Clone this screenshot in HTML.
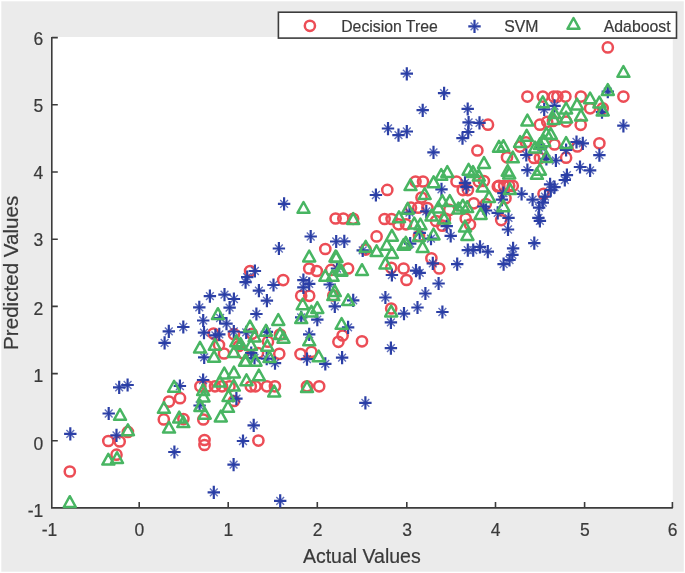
<!DOCTYPE html>
<html><head><meta charset="utf-8"><title>Predicted vs Actual</title>
<style>html,body{margin:0;padding:0;background:#fff;}svg{display:block;}text{font-family:"Liberation Sans",Arial,Helvetica,sans-serif;fill:#3a3a3a;stroke:#3a3a3a;stroke-width:0.2px;}svg{filter:blur(0.55px);}</style></head><body>
<svg width="685" height="573" viewBox="0 0 685 573">
<rect x="0" y="0" width="685" height="573" fill="#ffffff"/>
<rect x="1.3" y="1.3" width="682.5" height="570.4" fill="#ebebeb"/>
<rect x="51.8" y="37.0" width="621.0" height="470.9" fill="#ffffff"/>
<path d="M51.8 37.0V507.9H672.8M51.8 507.9v-6.0M51.8 508.0h6.0M139.2 507.9v-6.0M51.8 440.8h6.0M228.2 507.9v-6.0M51.8 373.6h6.0M317.3 507.9v-6.0M51.8 306.4h6.0M406.8 507.9v-6.0M51.8 239.2h6.0M495.5 507.9v-6.0M51.8 172.0h6.0M584.6 507.9v-6.0M51.8 104.8h6.0M672.4 507.9v-6.0M51.8 37.6h6.0" fill="none" stroke="#3c3c3c" stroke-width="1.6"/>
<g font-size="17.5px">
<text x="49.5" y="535.5" text-anchor="middle">-1</text>
<text x="139.4" y="535.5" text-anchor="middle">0</text>
<text x="228.4" y="535.5" text-anchor="middle">1</text>
<text x="317.5" y="535.5" text-anchor="middle">2</text>
<text x="407.0" y="535.5" text-anchor="middle">3</text>
<text x="495.7" y="535.5" text-anchor="middle">4</text>
<text x="584.8" y="535.5" text-anchor="middle">5</text>
<text x="672.6" y="535.5" text-anchor="middle">6</text>
<text x="43.2" y="516.8" text-anchor="end">-1</text>
<text x="43.2" y="449.6" text-anchor="end">0</text>
<text x="43.2" y="382.4" text-anchor="end">1</text>
<text x="43.2" y="315.2" text-anchor="end">2</text>
<text x="43.2" y="246.4" text-anchor="end">3</text>
<text x="43.2" y="179.2" text-anchor="end">4</text>
<text x="43.2" y="112.0" text-anchor="end">5</text>
<text x="43.2" y="44.8" text-anchor="end">6</text>
</g>
<text x="361.8" y="563" font-size="19.5px" text-anchor="middle">Actual Values</text>
<text transform="translate(18.0 272.8) rotate(-90)" font-size="20.6px" text-anchor="middle">Predicted Values</text>
<g fill="none" stroke="#ec4d56" stroke-width="2.50">
<circle cx="69.8" cy="471.5" r="5.1"/><circle cx="108.3" cy="441.0" r="5.1"/><circle cx="119.7" cy="441.5" r="5.1"/><circle cx="116.5" cy="454.7" r="5.1"/><circle cx="127.9" cy="431.9" r="5.1"/><circle cx="163.8" cy="419.4" r="5.1"/><circle cx="204.5" cy="440.0" r="5.1"/><circle cx="204.5" cy="445.0" r="5.1"/><circle cx="258.4" cy="440.6" r="5.1"/><circle cx="183.4" cy="419.1" r="5.1"/><circle cx="203.3" cy="419.5" r="5.1"/><circle cx="169.0" cy="401.6" r="5.1"/><circle cx="180.0" cy="398.2" r="5.1"/><circle cx="200.4" cy="386.3" r="5.1"/><circle cx="207.5" cy="386.3" r="5.1"/><circle cx="215.0" cy="386.3" r="5.1"/><circle cx="222.0" cy="386.3" r="5.1"/><circle cx="229.5" cy="386.3" r="5.1"/><circle cx="250.8" cy="386.3" r="5.1"/><circle cx="255.5" cy="386.3" r="5.1"/><circle cx="266.9" cy="386.3" r="5.1"/><circle cx="274.9" cy="386.3" r="5.1"/><circle cx="307.0" cy="386.3" r="5.1"/><circle cx="319.2" cy="386.3" r="5.1"/><circle cx="234.0" cy="401.0" r="5.1"/><circle cx="213.5" cy="333.6" r="5.1"/><circle cx="234.0" cy="334.2" r="5.1"/><circle cx="219.0" cy="345.0" r="5.1"/><circle cx="224.0" cy="353.5" r="5.1"/><circle cx="242.8" cy="353.2" r="5.1"/><circle cx="239.0" cy="346.0" r="5.1"/><circle cx="300.5" cy="354.1" r="5.1"/><circle cx="311.4" cy="351.9" r="5.1"/><circle cx="279.3" cy="353.8" r="5.1"/><circle cx="268.0" cy="341.7" r="5.1"/><circle cx="280.0" cy="334.5" r="5.1"/><circle cx="338.4" cy="341.8" r="5.1"/><circle cx="342.6" cy="335.5" r="5.1"/><circle cx="252.0" cy="333.8" r="5.1"/><circle cx="258.0" cy="353.0" r="5.1"/><circle cx="325.3" cy="249.0" r="5.1"/><circle cx="250.1" cy="271.0" r="5.1"/><circle cx="283.2" cy="280.1" r="5.1"/><circle cx="309.2" cy="268.5" r="5.1"/><circle cx="316.8" cy="271.0" r="5.1"/><circle cx="301.2" cy="295.8" r="5.1"/><circle cx="309.2" cy="295.8" r="5.1"/><circle cx="331.1" cy="269.9" r="5.1"/><circle cx="333.3" cy="295.5" r="5.1"/><circle cx="335.6" cy="218.5" r="5.1"/><circle cx="343.3" cy="218.5" r="5.1"/><circle cx="406.5" cy="280.0" r="5.1"/><circle cx="391.2" cy="308.5" r="5.1"/><circle cx="362.0" cy="341.3" r="5.1"/><circle cx="353.2" cy="218.8" r="5.1"/><circle cx="384.6" cy="219.0" r="5.1"/><circle cx="391.6" cy="219.0" r="5.1"/><circle cx="398.5" cy="224.3" r="5.1"/><circle cx="406.0" cy="224.3" r="5.1"/><circle cx="376.6" cy="236.4" r="5.1"/><circle cx="365.7" cy="249.6" r="5.1"/><circle cx="348.1" cy="268.5" r="5.1"/><circle cx="391.2" cy="267.8" r="5.1"/><circle cx="403.6" cy="268.5" r="5.1"/><circle cx="431.4" cy="258.3" r="5.1"/><circle cx="419.0" cy="236.0" r="5.1"/><circle cx="387.3" cy="189.9" r="5.1"/><circle cx="418.2" cy="207.7" r="5.1"/><circle cx="421.5" cy="197.5" r="5.1"/><circle cx="427.4" cy="208.1" r="5.1"/><circle cx="445.0" cy="218.6" r="5.1"/><circle cx="436.0" cy="221.0" r="5.1"/><circle cx="449.3" cy="209.9" r="5.1"/><circle cx="411.0" cy="207.7" r="5.1"/><circle cx="477.4" cy="150.5" r="5.1"/><circle cx="415.5" cy="181.5" r="5.1"/><circle cx="423.0" cy="181.5" r="5.1"/><circle cx="456.5" cy="181.5" r="5.1"/><circle cx="462.8" cy="190.1" r="5.1"/><circle cx="467.9" cy="190.1" r="5.1"/><circle cx="478.8" cy="181.4" r="5.1"/><circle cx="483.9" cy="181.0" r="5.1"/><circle cx="497.8" cy="186.5" r="5.1"/><circle cx="473.7" cy="203.3" r="5.1"/><circle cx="465.7" cy="218.6" r="5.1"/><circle cx="470.0" cy="224.5" r="5.1"/><circle cx="439.2" cy="268.5" r="5.1"/><circle cx="442.3" cy="225.7" r="5.1"/><circle cx="507.0" cy="157.3" r="5.1"/><circle cx="534.0" cy="158.0" r="5.1"/><circle cx="539.9" cy="158.0" r="5.1"/><circle cx="566.1" cy="157.7" r="5.1"/><circle cx="543.5" cy="193.8" r="5.1"/><circle cx="499.0" cy="185.8" r="5.1"/><circle cx="504.1" cy="185.8" r="5.1"/><circle cx="509.2" cy="185.8" r="5.1"/><circle cx="512.8" cy="185.8" r="5.1"/><circle cx="505.5" cy="198.2" r="5.1"/><circle cx="501.2" cy="220.1" r="5.1"/><circle cx="485.8" cy="204.0" r="5.1"/><circle cx="527.4" cy="96.6" r="5.1"/><circle cx="542.8" cy="96.6" r="5.1"/><circle cx="553.7" cy="96.6" r="5.1"/><circle cx="557.4" cy="96.6" r="5.1"/><circle cx="565.4" cy="96.6" r="5.1"/><circle cx="580.9" cy="96.6" r="5.1"/><circle cx="488.0" cy="124.7" r="5.1"/><circle cx="539.9" cy="124.7" r="5.1"/><circle cx="547.2" cy="121.8" r="5.1"/><circle cx="553.0" cy="121.0" r="5.1"/><circle cx="566.1" cy="121.5" r="5.1"/><circle cx="580.7" cy="124.8" r="5.1"/><circle cx="526.0" cy="142.3" r="5.1"/><circle cx="520.0" cy="146.6" r="5.1"/><circle cx="554.5" cy="144.5" r="5.1"/><circle cx="577.3" cy="146.5" r="5.1"/><circle cx="607.8" cy="47.4" r="5.1"/><circle cx="623.4" cy="96.6" r="5.1"/><circle cx="590.1" cy="108.3" r="5.1"/><circle cx="602.7" cy="108.3" r="5.1"/><circle cx="599.4" cy="143.3" r="5.1"/>
</g>
<path fill="none" stroke="#2b3fa6" stroke-width="2.20" d="M64.1 433.8h12.4M70.3 427.2v13.2M102.5 413.5h12.4M108.7 406.9v13.2M110.3 435.4h12.4M116.5 428.8v13.2M168.2 452.0h12.4M174.4 445.4v13.2M207.6 492.3h12.4M213.8 485.8v13.2M227.4 464.6h12.4M233.6 458.1v13.2M236.8 441.0h12.4M243.0 434.4v13.2M247.5 425.4h12.4M253.7 418.8v13.2M274.0 500.8h12.4M280.2 494.2v13.2M113.0 387.4h12.4M119.2 380.8v13.2M121.4 385.0h12.4M127.6 378.4v13.2M173.7 386.0h12.4M179.9 379.4v13.2M196.9 380.0h12.4M203.1 373.4v13.2M193.4 405.5h12.4M199.6 398.9v13.2M230.2 398.7h12.4M236.4 392.1v13.2M198.0 357.3h12.4M204.2 350.8v13.2M158.4 342.8h12.4M164.6 336.2v13.2M162.6 331.4h12.4M168.8 324.8v13.2M177.1 327.0h12.4M183.3 320.4v13.2M193.1 307.4h12.4M199.3 300.8v13.2M203.7 296.1h12.4M209.9 289.6v13.2M218.3 294.6h12.4M224.5 288.1v13.2M227.7 299.0h12.4M233.9 292.4v13.2M223.4 307.7h12.4M229.6 301.1v13.2M197.0 320.5h12.4M203.2 313.9v13.2M197.8 332.7h12.4M204.0 326.1v13.2M213.9 318.0h12.4M220.1 311.4v13.2M220.3 323.6h12.4M226.5 317.1v13.2M227.6 331.5h12.4M233.8 324.9v13.2M209.2 335.3h12.4M215.4 328.8v13.2M213.1 334.4h12.4M219.3 327.8v13.2M239.4 282.2h12.4M245.6 275.6v13.2M240.0 332.3h12.4M246.2 325.8v13.2M303.0 334.4h12.4M309.2 327.8v13.2M300.8 359.2h12.4M307.0 352.6v13.2M319.1 363.9h12.4M325.3 357.3v13.2M335.9 357.7h12.4M342.1 351.1v13.2M268.8 363.2h12.4M275.0 356.6v13.2M260.5 358.6h12.4M266.7 352.1v13.2M260.7 331.8h12.4M266.9 325.2v13.2M245.0 353.2h12.4M251.2 346.6v13.2M248.3 358.0h12.4M254.5 351.4v13.2M250.2 314.0h12.4M256.4 307.4v13.2M272.7 248.5h12.4M278.9 241.9v13.2M248.7 271.0h12.4M254.9 264.4v13.2M241.0 277.2h12.4M247.2 270.6v13.2M267.3 285.0h12.4M273.5 278.4v13.2M252.7 290.7h12.4M258.9 284.1v13.2M260.7 300.6h12.4M266.9 294.1v13.2M297.2 280.1h12.4M303.4 273.6v13.2M303.0 283.8h12.4M309.2 277.2v13.2M297.2 287.4h12.4M303.4 280.8v13.2M323.5 284.5h12.4M329.7 277.9v13.2M328.6 306.4h12.4M334.8 299.8v13.2M295.0 317.4h12.4M301.2 310.8v13.2M311.1 319.6h12.4M317.3 313.1v13.2M330.0 241.5h12.4M336.2 234.9v13.2M304.5 236.5h12.4M310.7 229.9v13.2M330.8 268.5h12.4M337.0 261.9v13.2M338.1 241.3h12.4M344.3 234.8v13.2M277.9 203.8h12.4M284.1 197.2v13.2M347.0 300.4h12.4M353.2 293.8v13.2M379.2 297.5h12.4M385.4 290.9v13.2M419.2 293.5h12.4M425.4 286.9v13.2M411.3 307.5h12.4M417.5 300.9v13.2M397.8 313.6h12.4M404.0 307.1v13.2M384.7 322.3h12.4M390.9 315.8v13.2M384.7 348.2h12.4M390.9 341.6v13.2M341.9 327.4h12.4M348.1 320.8v13.2M359.2 402.9h12.4M365.4 396.3v13.2M356.5 250.3h12.4M362.7 243.8v13.2M369.7 195.0h12.4M375.9 188.4v13.2M385.7 275.0h12.4M391.9 268.4v13.2M409.8 270.7h12.4M416.0 264.1v13.2M413.5 272.9h12.4M419.7 266.3v13.2M404.0 243.7h12.4M410.2 237.1v13.2M403.3 212.5h12.4M409.5 205.9v13.2M420.1 211.4h12.4M426.3 204.8v13.2M413.5 232.8h12.4M419.7 226.2v13.2M424.8 238.7h12.4M431.0 232.1v13.2M426.6 263.4h12.4M432.8 256.8v13.2M427.3 152.3h12.4M433.5 145.8v13.2M435.3 189.4h12.4M441.5 182.8v13.2M458.8 182.8h12.4M465.0 176.2v13.2M460.2 187.2h12.4M466.4 180.6v13.2M477.2 206.5h12.4M483.4 199.9v13.2M479.8 210.5h12.4M486.0 203.9v13.2M491.5 212.8h12.4M497.7 206.2v13.2M440.5 226.2h12.4M446.7 219.6v13.2M444.5 235.8h12.4M450.7 229.2v13.2M461.6 250.1h12.4M467.8 243.5v13.2M467.0 250.1h12.4M473.2 243.5v13.2M473.8 246.9h12.4M480.0 240.3v13.2M481.6 251.6h12.4M487.8 245.0v13.2M451.0 264.1h12.4M457.2 257.6v13.2M501.8 229.5h12.4M508.0 222.9v13.2M506.9 248.4h12.4M513.1 241.8v13.2M506.2 254.9h12.4M512.4 248.3v13.2M503.3 260.0h12.4M509.5 253.4v13.2M497.4 264.1h12.4M503.6 257.6v13.2M528.1 243.2h12.4M534.3 236.6v13.2M432.4 283.5h12.4M438.6 276.9v13.2M436.2 312.0h12.4M442.4 305.4v13.2M520.1 155.0h12.4M526.3 148.4v13.2M521.2 170.1h12.4M527.4 163.5v13.2M540.2 158.8h12.4M546.4 152.2v13.2M549.7 160.5h12.4M555.9 153.9v13.2M559.9 150.0h12.4M566.1 143.4v13.2M573.8 167.0h12.4M580.0 160.4v13.2M560.7 175.2h12.4M566.9 168.6v13.2M558.6 180.0h12.4M564.8 173.4v13.2M543.9 184.3h12.4M550.1 177.8v13.2M548.3 187.2h12.4M554.5 180.6v13.2M544.6 190.1h12.4M550.8 183.5v13.2M515.4 193.8h12.4M521.6 187.2v13.2M526.4 199.6h12.4M532.6 193.0v13.2M538.8 196.7h12.4M545.0 190.1v13.2M536.6 202.6h12.4M542.8 196.0v13.2M532.9 207.7h12.4M539.1 201.1v13.2M532.2 217.9h12.4M538.4 211.3v13.2M533.7 220.8h12.4M539.9 214.2v13.2M497.2 193.1h12.4M503.4 186.5v13.2M495.7 199.6h12.4M501.9 193.0v13.2M502.3 217.9h12.4M508.5 211.3v13.2M538.0 109.4h12.4M544.2 102.9v13.2M548.3 105.8h12.4M554.5 99.2v13.2M473.3 122.8h12.4M479.5 116.2v13.2M570.3 142.0h12.4M576.5 135.4v13.2M535.1 147.4h12.4M541.3 140.8v13.2M601.6 91.6h12.4M607.8 85.0v13.2M595.8 112.0h12.4M602.0 105.5v13.2M617.2 125.7h12.4M623.4 119.2v13.2M576.6 143.3h12.4M582.8 136.8v13.2M593.2 155.2h12.4M599.4 148.6v13.2M583.9 170.4h12.4M590.1 163.8v13.2M400.6 73.7h12.4M406.8 67.2v13.2M437.9 93.2h12.4M444.1 86.7v13.2M416.5 110.2h12.4M422.7 103.7v13.2M461.5 108.9h12.4M467.7 102.4v13.2M381.8 128.5h12.4M388.0 122.0v13.2M392.3 135.2h12.4M398.5 128.6v13.2M400.6 131.5h12.4M406.8 125.0v13.2M462.4 122.4h12.4M468.6 115.9v13.2M462.0 132.0h12.4M468.2 125.5v13.2M456.3 138.2h12.4M462.5 131.6v13.2"/>
<path fill="none" stroke="#2b3fa6" stroke-width="1.4" stroke-opacity="0.75" d="M66.4 429.9l7.8 7.8M66.4 437.7l7.8 -7.8M104.8 409.6l7.8 7.8M104.8 417.4l7.8 -7.8M112.6 431.5l7.8 7.8M112.6 439.3l7.8 -7.8M170.5 448.1l7.8 7.8M170.5 455.9l7.8 -7.8M209.9 488.4l7.8 7.8M209.9 496.2l7.8 -7.8M229.7 460.7l7.8 7.8M229.7 468.5l7.8 -7.8M239.1 437.1l7.8 7.8M239.1 444.9l7.8 -7.8M249.8 421.5l7.8 7.8M249.8 429.3l7.8 -7.8M276.3 496.9l7.8 7.8M276.3 504.7l7.8 -7.8M115.3 383.5l7.8 7.8M115.3 391.3l7.8 -7.8M123.7 381.1l7.8 7.8M123.7 388.9l7.8 -7.8M176.0 382.1l7.8 7.8M176.0 389.9l7.8 -7.8M199.2 376.1l7.8 7.8M199.2 383.9l7.8 -7.8M195.7 401.6l7.8 7.8M195.7 409.4l7.8 -7.8M232.5 394.8l7.8 7.8M232.5 402.6l7.8 -7.8M200.3 353.4l7.8 7.8M200.3 361.2l7.8 -7.8M160.7 338.9l7.8 7.8M160.7 346.7l7.8 -7.8M164.9 327.5l7.8 7.8M164.9 335.3l7.8 -7.8M179.4 323.1l7.8 7.8M179.4 330.9l7.8 -7.8M195.4 303.5l7.8 7.8M195.4 311.3l7.8 -7.8M206.0 292.2l7.8 7.8M206.0 300.0l7.8 -7.8M220.6 290.7l7.8 7.8M220.6 298.5l7.8 -7.8M230.0 295.1l7.8 7.8M230.0 302.9l7.8 -7.8M225.7 303.8l7.8 7.8M225.7 311.6l7.8 -7.8M199.3 316.6l7.8 7.8M199.3 324.4l7.8 -7.8M200.1 328.8l7.8 7.8M200.1 336.6l7.8 -7.8M216.2 314.1l7.8 7.8M216.2 321.9l7.8 -7.8M222.6 319.7l7.8 7.8M222.6 327.5l7.8 -7.8M229.9 327.6l7.8 7.8M229.9 335.4l7.8 -7.8M211.5 331.4l7.8 7.8M211.5 339.2l7.8 -7.8M215.4 330.5l7.8 7.8M215.4 338.3l7.8 -7.8M241.7 278.3l7.8 7.8M241.7 286.1l7.8 -7.8M242.3 328.4l7.8 7.8M242.3 336.2l7.8 -7.8M305.3 330.5l7.8 7.8M305.3 338.3l7.8 -7.8M303.1 355.3l7.8 7.8M303.1 363.1l7.8 -7.8M321.4 360.0l7.8 7.8M321.4 367.8l7.8 -7.8M338.2 353.8l7.8 7.8M338.2 361.6l7.8 -7.8M271.1 359.3l7.8 7.8M271.1 367.1l7.8 -7.8M262.8 354.7l7.8 7.8M262.8 362.5l7.8 -7.8M263.0 327.9l7.8 7.8M263.0 335.7l7.8 -7.8M247.3 349.3l7.8 7.8M247.3 357.1l7.8 -7.8M250.6 354.1l7.8 7.8M250.6 361.9l7.8 -7.8M252.5 310.1l7.8 7.8M252.5 317.9l7.8 -7.8M275.0 244.6l7.8 7.8M275.0 252.4l7.8 -7.8M251.0 267.1l7.8 7.8M251.0 274.9l7.8 -7.8M243.3 273.3l7.8 7.8M243.3 281.1l7.8 -7.8M269.6 281.1l7.8 7.8M269.6 288.9l7.8 -7.8M255.0 286.8l7.8 7.8M255.0 294.6l7.8 -7.8M263.0 296.7l7.8 7.8M263.0 304.5l7.8 -7.8M299.5 276.2l7.8 7.8M299.5 284.0l7.8 -7.8M305.3 279.9l7.8 7.8M305.3 287.7l7.8 -7.8M299.5 283.5l7.8 7.8M299.5 291.3l7.8 -7.8M325.8 280.6l7.8 7.8M325.8 288.4l7.8 -7.8M330.9 302.5l7.8 7.8M330.9 310.3l7.8 -7.8M297.3 313.5l7.8 7.8M297.3 321.3l7.8 -7.8M313.4 315.7l7.8 7.8M313.4 323.5l7.8 -7.8M332.3 237.6l7.8 7.8M332.3 245.4l7.8 -7.8M306.8 232.6l7.8 7.8M306.8 240.4l7.8 -7.8M333.1 264.6l7.8 7.8M333.1 272.4l7.8 -7.8M340.4 237.4l7.8 7.8M340.4 245.2l7.8 -7.8M280.2 199.9l7.8 7.8M280.2 207.7l7.8 -7.8M349.3 296.5l7.8 7.8M349.3 304.3l7.8 -7.8M381.5 293.6l7.8 7.8M381.5 301.4l7.8 -7.8M421.5 289.6l7.8 7.8M421.5 297.4l7.8 -7.8M413.6 303.6l7.8 7.8M413.6 311.4l7.8 -7.8M400.1 309.7l7.8 7.8M400.1 317.5l7.8 -7.8M387.0 318.4l7.8 7.8M387.0 326.2l7.8 -7.8M387.0 344.3l7.8 7.8M387.0 352.1l7.8 -7.8M344.2 323.5l7.8 7.8M344.2 331.3l7.8 -7.8M361.5 399.0l7.8 7.8M361.5 406.8l7.8 -7.8M358.8 246.4l7.8 7.8M358.8 254.2l7.8 -7.8M372.0 191.1l7.8 7.8M372.0 198.9l7.8 -7.8M388.0 271.1l7.8 7.8M388.0 278.9l7.8 -7.8M412.1 266.8l7.8 7.8M412.1 274.6l7.8 -7.8M415.8 269.0l7.8 7.8M415.8 276.8l7.8 -7.8M406.3 239.8l7.8 7.8M406.3 247.6l7.8 -7.8M405.6 208.6l7.8 7.8M405.6 216.4l7.8 -7.8M422.4 207.5l7.8 7.8M422.4 215.3l7.8 -7.8M415.8 228.9l7.8 7.8M415.8 236.7l7.8 -7.8M427.1 234.8l7.8 7.8M427.1 242.6l7.8 -7.8M428.9 259.5l7.8 7.8M428.9 267.3l7.8 -7.8M429.6 148.4l7.8 7.8M429.6 156.2l7.8 -7.8M437.6 185.5l7.8 7.8M437.6 193.3l7.8 -7.8M461.1 178.9l7.8 7.8M461.1 186.7l7.8 -7.8M462.5 183.3l7.8 7.8M462.5 191.1l7.8 -7.8M479.5 202.6l7.8 7.8M479.5 210.4l7.8 -7.8M482.1 206.6l7.8 7.8M482.1 214.4l7.8 -7.8M493.8 208.9l7.8 7.8M493.8 216.7l7.8 -7.8M442.8 222.3l7.8 7.8M442.8 230.1l7.8 -7.8M446.8 231.9l7.8 7.8M446.8 239.7l7.8 -7.8M463.9 246.2l7.8 7.8M463.9 254.0l7.8 -7.8M469.3 246.2l7.8 7.8M469.3 254.0l7.8 -7.8M476.1 243.0l7.8 7.8M476.1 250.8l7.8 -7.8M483.9 247.7l7.8 7.8M483.9 255.5l7.8 -7.8M453.3 260.2l7.8 7.8M453.3 268.0l7.8 -7.8M504.1 225.6l7.8 7.8M504.1 233.4l7.8 -7.8M509.2 244.5l7.8 7.8M509.2 252.3l7.8 -7.8M508.5 251.0l7.8 7.8M508.5 258.8l7.8 -7.8M505.6 256.1l7.8 7.8M505.6 263.9l7.8 -7.8M499.7 260.2l7.8 7.8M499.7 268.0l7.8 -7.8M530.4 239.3l7.8 7.8M530.4 247.1l7.8 -7.8M434.7 279.6l7.8 7.8M434.7 287.4l7.8 -7.8M438.5 308.1l7.8 7.8M438.5 315.9l7.8 -7.8M522.4 151.1l7.8 7.8M522.4 158.9l7.8 -7.8M523.5 166.2l7.8 7.8M523.5 174.0l7.8 -7.8M542.5 154.9l7.8 7.8M542.5 162.7l7.8 -7.8M552.0 156.6l7.8 7.8M552.0 164.4l7.8 -7.8M562.2 146.1l7.8 7.8M562.2 153.9l7.8 -7.8M576.1 163.1l7.8 7.8M576.1 170.9l7.8 -7.8M563.0 171.3l7.8 7.8M563.0 179.1l7.8 -7.8M560.9 176.1l7.8 7.8M560.9 183.9l7.8 -7.8M546.2 180.4l7.8 7.8M546.2 188.2l7.8 -7.8M550.6 183.3l7.8 7.8M550.6 191.1l7.8 -7.8M546.9 186.2l7.8 7.8M546.9 194.0l7.8 -7.8M517.7 189.9l7.8 7.8M517.7 197.7l7.8 -7.8M528.7 195.7l7.8 7.8M528.7 203.5l7.8 -7.8M541.1 192.8l7.8 7.8M541.1 200.6l7.8 -7.8M538.9 198.7l7.8 7.8M538.9 206.5l7.8 -7.8M535.2 203.8l7.8 7.8M535.2 211.6l7.8 -7.8M534.5 214.0l7.8 7.8M534.5 221.8l7.8 -7.8M536.0 216.9l7.8 7.8M536.0 224.7l7.8 -7.8M499.5 189.2l7.8 7.8M499.5 197.0l7.8 -7.8M498.0 195.7l7.8 7.8M498.0 203.5l7.8 -7.8M504.6 214.0l7.8 7.8M504.6 221.8l7.8 -7.8M540.3 105.5l7.8 7.8M540.3 113.3l7.8 -7.8M550.6 101.9l7.8 7.8M550.6 109.7l7.8 -7.8M475.6 118.9l7.8 7.8M475.6 126.7l7.8 -7.8M572.6 138.1l7.8 7.8M572.6 145.9l7.8 -7.8M537.4 143.5l7.8 7.8M537.4 151.3l7.8 -7.8M603.9 87.7l7.8 7.8M603.9 95.5l7.8 -7.8M598.1 108.1l7.8 7.8M598.1 115.9l7.8 -7.8M619.5 121.8l7.8 7.8M619.5 129.6l7.8 -7.8M578.9 139.4l7.8 7.8M578.9 147.2l7.8 -7.8M595.5 151.3l7.8 7.8M595.5 159.1l7.8 -7.8M586.2 166.5l7.8 7.8M586.2 174.3l7.8 -7.8M402.9 69.8l7.8 7.8M402.9 77.6l7.8 -7.8M440.2 89.3l7.8 7.8M440.2 97.1l7.8 -7.8M418.8 106.3l7.8 7.8M418.8 114.1l7.8 -7.8M463.8 105.0l7.8 7.8M463.8 112.8l7.8 -7.8M384.1 124.6l7.8 7.8M384.1 132.4l7.8 -7.8M394.6 131.3l7.8 7.8M394.6 139.1l7.8 -7.8M402.9 127.6l7.8 7.8M402.9 135.4l7.8 -7.8M464.7 118.5l7.8 7.8M464.7 126.3l7.8 -7.8M464.3 128.1l7.8 7.8M464.3 135.9l7.8 -7.8M458.6 134.3l7.8 7.8M458.6 142.1l7.8 -7.8"/>
<path fill="none" stroke="#48b562" stroke-width="2.50" stroke-linejoin="round" d="M69.8 496.2l6 10.8h-12zM108.3 453.8l6 10.8h-12zM117.0 452.2l6 10.8h-12zM120.0 409.0l6 10.8h-12zM127.9 424.4l6 10.8h-12zM169.0 421.8l6 10.8h-12zM220.8 410.6l6 10.8h-12zM174.1 380.9l6 10.8h-12zM163.9 402.0l6 10.8h-12zM179.2 411.6l6 10.8h-12zM183.3 416.3l6 10.8h-12zM203.1 384.3l6 10.8h-12zM203.5 390.6l6 10.8h-12zM200.4 400.1l6 10.8h-12zM204.7 407.9l6 10.8h-12zM219.8 375.8l6 10.8h-12zM224.3 367.6l6 10.8h-12zM233.9 366.6l6 10.8h-12zM246.5 374.4l6 10.8h-12zM233.8 379.8l6 10.8h-12zM228.5 390.2l6 10.8h-12zM228.0 401.0l6 10.8h-12zM245.0 354.9l6 10.8h-12zM217.9 308.2l6 10.8h-12zM200.0 341.8l6 10.8h-12zM214.8 339.0l6 10.8h-12zM214.1 350.9l6 10.8h-12zM236.3 335.4l6 10.8h-12zM233.9 346.3l6 10.8h-12zM250.0 320.6l6 10.8h-12zM278.3 314.1l6 10.8h-12zM280.0 328.1l6 10.8h-12zM283.5 331.9l6 10.8h-12zM266.0 324.9l6 10.8h-12zM254.6 330.6l6 10.8h-12zM267.3 339.9l6 10.8h-12zM269.5 351.3l6 10.8h-12zM245.9 354.9l6 10.8h-12zM255.5 354.9l6 10.8h-12zM240.6 338.0l6 10.8h-12zM251.0 339.1l6 10.8h-12zM309.2 334.5l6 10.8h-12zM318.7 350.5l6 10.8h-12zM307.0 381.2l6 10.8h-12zM274.2 385.6l6 10.8h-12zM258.9 369.5l6 10.8h-12zM309.2 250.6l6 10.8h-12zM335.5 250.6l6 10.8h-12zM325.3 270.0l6 10.8h-12zM332.6 270.0l6 10.8h-12zM341.4 264.9l6 10.8h-12zM334.8 285.3l6 10.8h-12zM333.3 289.3l6 10.8h-12zM302.7 298.5l6 10.8h-12zM317.3 302.1l6 10.8h-12zM311.4 305.8l6 10.8h-12zM301.2 312.3l6 10.8h-12zM303.5 202.0l6 10.8h-12zM348.1 294.3l6 10.8h-12zM391.2 305.6l6 10.8h-12zM341.6 318.0l6 10.8h-12zM353.2 213.1l6 10.8h-12zM365.7 240.9l6 10.8h-12zM376.6 245.3l6 10.8h-12zM391.9 229.9l6 10.8h-12zM386.8 239.0l6 10.8h-12zM391.9 247.1l6 10.8h-12zM385.4 257.7l6 10.8h-12zM362.0 264.2l6 10.8h-12zM405.8 236.9l6 10.8h-12zM403.6 239.0l6 10.8h-12zM422.6 241.2l6 10.8h-12zM399.0 211.4l6 10.8h-12zM407.8 202.9l6 10.8h-12zM420.4 218.5l6 10.8h-12zM414.3 217.6l6 10.8h-12zM431.5 209.6l6 10.8h-12zM419.0 230.1l6 10.8h-12zM336.5 251.1l6 10.8h-12zM339.4 263.9l6 10.8h-12zM433.5 228.6l6 10.8h-12zM444.2 212.6l6 10.8h-12zM442.3 195.2l6 10.8h-12zM449.8 195.1l6 10.8h-12zM438.4 201.6l6 10.8h-12zM484.0 157.1l6 10.8h-12zM468.6 163.9l6 10.8h-12zM473.0 166.1l6 10.8h-12zM478.8 169.8l6 10.8h-12zM447.3 166.1l6 10.8h-12zM441.2 169.0l6 10.8h-12zM433.6 176.4l6 10.8h-12zM410.5 179.3l6 10.8h-12zM424.7 188.2l6 10.8h-12zM482.7 180.6l6 10.8h-12zM489.0 191.1l6 10.8h-12zM462.8 199.7l6 10.8h-12zM467.2 201.2l6 10.8h-12zM458.4 202.6l6 10.8h-12zM480.6 208.1l6 10.8h-12zM465.0 220.6l6 10.8h-12zM467.4 229.1l6 10.8h-12zM512.8 151.5l6 10.8h-12zM507.7 165.0l6 10.8h-12zM509.2 167.6l6 10.8h-12zM539.9 163.9l6 10.8h-12zM536.9 168.0l6 10.8h-12zM546.4 151.2l6 10.8h-12zM509.9 183.3l6 10.8h-12zM503.4 200.4l6 10.8h-12zM542.8 96.4l6 10.8h-12zM527.4 114.6l6 10.8h-12zM554.5 107.3l6 10.8h-12zM553.7 113.1l6 10.8h-12zM566.1 102.6l6 10.8h-12zM566.1 111.6l6 10.8h-12zM577.0 98.6l6 10.8h-12zM581.0 109.6l6 10.8h-12zM526.7 129.9l6 10.8h-12zM520.1 136.1l6 10.8h-12zM546.4 127.7l6 10.8h-12zM550.8 128.1l6 10.8h-12zM499.0 140.9l6 10.8h-12zM503.4 140.2l6 10.8h-12zM566.1 137.1l6 10.8h-12zM539.9 138.3l6 10.8h-12zM544.2 135.4l6 10.8h-12zM535.0 141.6l6 10.8h-12zM623.4 66.0l6 10.8h-12zM607.8 84.1l6 10.8h-12zM590.1 92.5l6 10.8h-12zM599.4 96.6l6 10.8h-12zM602.7 104.6l6 10.8h-12z"/>
<rect x="278.4" y="12.2" width="398.1" height="25.9" fill="#ffffff" stroke="#3c3c3c" stroke-width="1.6"/>
<circle cx="309.9" cy="25.8" r="5.1" fill="none" stroke="#ec4d56" stroke-width="2.50"/>
<path fill="none" stroke="#2b3fa6" stroke-width="2.20" d="M468.3 26.4h12.4M474.5 19.8v13.2"/>
<path fill="none" stroke="#2b3fa6" stroke-width="1.4" stroke-opacity="0.75" d="M470.6 22.5l7.8 7.8M470.6 30.3l7.8 -7.8"/>
<path fill="none" stroke="#48b562" stroke-width="2.50" stroke-linejoin="round" d="M573.5 18.0l6 10.8h-12z"/>
<g font-size="15.8px"><text x="341.2" y="32">Decision Tree</text><text x="504.3" y="32">SVM</text><text x="603.8" y="32">Adaboost</text></g>
</svg></body></html>
